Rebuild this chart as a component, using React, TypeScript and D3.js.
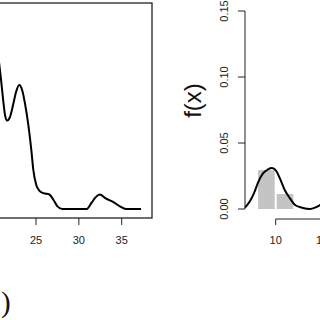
import * as d3 from 'd3'

// left panel: density curve (only right part visible)
const leftX = [20.3, 20.69, 20.92, 21.16, 21.39, 21.63, 21.98, 22.33, 22.69, 23.04, 23.39, 23.74, 24.1, 24.45, 24.68, 25.04, 25.39, 25.86, 26.56, 27.03, 27.5, 28.09, 30.92, 31.51, 31.97, 32.44, 33.14, 34.08, 34.79, 35.49, 37.26]
const leftY = [0.135, 0.111, 0.098, 0.083, 0.071, 0.067, 0.07, 0.079, 0.089, 0.094, 0.09, 0.079, 0.064, 0.045, 0.03, 0.018, 0.014, 0.012, 0.011, 0.007, 0.002, 0, 0, 0.005, 0.009, 0.011, 0.008, 0.005, 0.002, 0, 0]
const leftTicks = [25, 30, 35]

// right panel: histogram + density
const binStart = [8, 10]
const binEnd = [10, 12]
const binHeight = [0.0295, 0.0114]
const rightX = [6.7, 7.24, 7.67, 8.1, 8.63, 9.17, 9.6, 10.03, 10.46, 11.0, 11.54, 12.08, 12.83, 13.69, 14.23, 14.77, 15.4, 16.0]
const rightY = [0.001, 0.006, 0.012, 0.02, 0.027, 0.03, 0.031, 0.029, 0.023, 0.014, 0.008, 0.003, 0.001, 0, 0.001, 0.003, 0.007, 0.012]
const rightXTicks = [10, 15, 20]
const yTicks = [0, 0.05, 0.1, 0.15]

const font = 'Liberation Sans, Arial, Helvetica, sans-serif'

export default function App() {
  const y = d3.scaleLinear().domain([0, 0.15]).range([209, 11])

  // left panel
  const xL = d3.scaleLinear().domain([25, 35]).range([36, 121.7])
  const lineL = d3.line<number>()
    .x((_, i) => xL(leftX[i]))
    .y((d) => y(d))
    .curve(d3.curveMonotoneX)

  // right panel
  const xR = d3.scaleLinear().domain([10, 15]).range([275.7, 322.2])
  const lineR = d3.line<number>()
    .x((_, i) => xR(rightX[i]))
    .y((d) => y(d))
    .curve(d3.curveMonotoneX)

  const axisX = 245

  return (
    <svg width={320} height={320} style={{ position: 'absolute', left: 0, top: 0, background: '#fff' }}>
      <defs>
        <clipPath id="clipL">
          <rect x={-40} y={3} width={192} height={215} />
        </clipPath>
      </defs>

      {/* left panel */}
      <rect x={-40} y={3} width={192} height={215} fill="none" stroke="#222" strokeWidth={1.3} />
      <path d={lineL(leftY) ?? ''} fill="none" stroke="#000" strokeWidth={2} clipPath="url(#clipL)" />
      {leftTicks.map((t) => (
        <g key={t}>
          <line x1={xL(t)} x2={xL(t)} y1={218} y2={225} stroke="#222" strokeWidth={1} />
          <text x={xL(t)} y={243.5} textAnchor="middle" fontSize={11} fontFamily={font} fill="#222">{t}</text>
        </g>
      ))}

      {/* right panel */}
      {binStart.map((b, i) => (
        <rect
          key={b}
          x={xR(b) + 1}
          y={y(binHeight[i])}
          width={xR(binEnd[i]) - xR(b) - 2}
          height={y(0) - y(binHeight[i])}
          fill="#c4c4c4"
        />
      ))}
      <path d={lineR(rightY) ?? ''} fill="none" stroke="#000" strokeWidth={2} />

      <line x1={axisX} x2={axisX} y1={y(0)} y2={y(0.15)} stroke="#222" strokeWidth={1} />
      {yTicks.map((t) => (
        <g key={t}>
          <line x1={axisX - 7} x2={axisX} y1={y(t)} y2={y(t)} stroke="#222" strokeWidth={1} />
          <text
            transform={`translate(228,${y(t)}) rotate(-90)`}
            textAnchor="middle"
            fontSize={11}
            fontFamily={font}
            fill="#222"
          >
            {t.toFixed(2)}
          </text>
        </g>
      ))}
      <text transform="translate(201,100.5) rotate(-90)" textAnchor="middle" fontSize={24} fontFamily={font} fill="#111">f(x)</text>

      <line x1={xR(10)} x2={xR(20)} y1={219} y2={219} stroke="#222" strokeWidth={1} />
      {rightXTicks.map((t) => (
        <g key={t}>
          <line x1={xR(t)} x2={xR(t)} y1={219} y2={225} stroke="#222" strokeWidth={1} />
          <text x={xR(t)} y={243.5} textAnchor="middle" fontSize={11} fontFamily={font} fill="#222">{t}</text>
        </g>
      ))}

      {/* panel label, cut off at the left edge */}
      <text x={1} y={312} fontSize={29} fontFamily="Liberation Serif, Times New Roman, serif" fill="#111">)</text>
    </svg>
  )
}
